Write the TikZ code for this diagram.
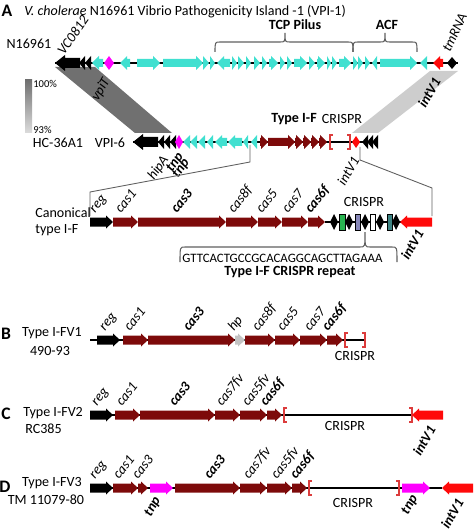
\documentclass[tikz,border=0pt]{standalone}
\usepackage{fontspec}
\setmainfont{Carlito}
\usepackage{tikz}

\definecolor{casred}{RGB}{125,10,10}
\definecolor{vpicyan}{RGB}{64,224,208}
\definecolor{tnpmag}{RGB}{255,0,255}
\definecolor{intred}{RGB}{255,10,10}
\definecolor{hpgray}{RGB}{195,195,195}
\definecolor{spgreen}{RGB}{40,180,80}
\definecolor{sppurple}{RGB}{135,135,185}
\definecolor{spteal}{RGB}{60,130,130}
\definecolor{brgray}{RGB}{95,95,95}
\definecolor{simdark}{RGB}{112,112,112}
\definecolor{simlight}{RGB}{205,205,205}
\definecolor{crred}{RGB}{220,60,60}

\def\gbody{4}\def\ghead{7}\def\gheadlen{7}
\newcommand{\gene}[4]{%
  \pgfmathsetmacro{\gdir}{(#2>#1)?1:-1}%
  \pgfmathsetmacro{\glen}{min(\gheadlen,abs(#2-#1))}%
  \pgfmathsetmacro{\gneck}{#2-\gdir*\glen}%
  \fill[#4] (#1,#3-\gbody) -- (\gneck,#3-\gbody) -- (\gneck,#3-\ghead) -- (#2,#3)
    -- (\gneck,#3+\ghead) -- (\gneck,#3+\gbody) -- (#1,#3+\gbody) -- cycle;}
\newcommand{\dia}[5]{\fill[#5] (#1-#3,#2) -- (#1,#2-#4) -- (#1+#3,#2) -- (#1,#2+#4) -- cycle;}
\newcommand{\crl}[2]{\draw[crbr] (#1+3,#2-7) -- (#1,#2-7) -- (#1,#2+7) -- (#1+3,#2+7);}
\newcommand{\crr}[2]{\draw[crbr] (#1-3,#2-7) -- (#1,#2-7) -- (#1,#2+7) -- (#1-3,#2+7);}

\tikzset{
  txt/.style={font=\fontsize{8}{9}\selectfont, inner sep=0pt},
  btxt/.style={font=\fontsize{8}{9}\selectfont\bfseries, inner sep=0pt},
  lab/.style={font=\fontsize{8}{9}\selectfont\itshape, inner sep=0pt},
  glab/.style={lab, rotate=52, anchor=base west},
  blab/.style={lab, rotate=60, anchor=east},
  panel/.style={font=\fontsize{10}{10}\selectfont\bfseries, inner sep=0pt},
  gline/.style={line width=0.8pt},
  zline/.style={brgray, line width=0.5pt},
  brace/.style={brgray, line width=0.6pt},
  crbr/.style={crred, line width=0.6pt},
  spacer/.style={draw=black, line width=0.3pt}
}

\begin{document}
\begin{tikzpicture}[x=0.02cm,y=-0.02cm]
\useasboundingbox (0,0) rectangle (474,530);

\node[panel] (pA) at (7,11) {A};
\node[txt, anchor=west] (title) at (24,12) {\textit{V. cholerae} N16961 Vibrio Pathogenicity Island -1 (VPI-1)};
\node[btxt] (tcp) at (295,25) {TCP Pilus};
\node[btxt] (acf) at (387,25) {ACF};
\draw[brace] (215,52) .. controls (215,42) .. (220,42) -- (280,42) .. controls (285,42) .. (285,33)
  .. controls (285,42) .. (290,42) -- (348,42) .. controls (353,42) .. (353,52);
\draw[brace] (353,52) .. controls (353,42) .. (358,42) -- (380,42) .. controls (385,42) .. (385,33)
  .. controls (385,42) .. (390,42) -- (412,42) .. controls (417,42) .. (417,52);

\fill[simdark] (55,67) -- (95,67) -- (172,133) -- (135,133) -- cycle;
\fill[simlight] (430,71) -- (458,71) -- (378,133) -- (352,133) -- cycle;
\shade[top color=simdark, bottom color=simlight!70] (25,80) rectangle (32,133);
\node[txt, font=\fontsize{6}{7}\selectfont, anchor=west] (p100) at (33,84) {100\%};
\node[txt, font=\fontsize{6}{7}\selectfont, anchor=west] (p93) at (33,130) {93\%};

% N16961
\node[txt] (n16961) at (29,44) {N16961};
\draw[gline] (55,63) -- (458,63);
\def\gbody{5}\def\ghead{8}\def\gheadlen{10}
\gene{80}{55}{63}{black}
\def\gbody{4}\def\ghead{7}\def\gheadlen{7}
\foreach \a/\b in {85/79,91/85} \gene{\a}{\b}{63}{black};
\foreach \a/\b in {103/92,130/120,230/217,377/372,427/420} \gene{\a}{\b}{63}{vpicyan};
\foreach \a/\b in {137/160,163/203,203/209,210/215,232/237,238/244,246/251,254/260,262/267,269/278,
  280/285,287/292,294/307,309/315,317/325,327/331,332/337,339/351,353/358,358/363,365/370,380/417}
  \gene{\a}{\b}{63}{vpicyan};
\dia{109}{63}{5}{7}{tnpmag}
\gene{443}{433}{63}{intred}
\dia{452}{63}{5}{6}{black}
\node[lab, rotate=55, anchor=base west] (vc0812) at (64,56) {VC0812};
\node[lab, rotate=65, anchor=base west] (tmrna) at (450,53) {tmRNA};
\node[blab] (vpit) at (107,79) {vpiT};
\node[blab] (intA) at (437,79) {\textbf{intV1}};

% HC-36A1
\node[txt] (hc) at (58,143) {HC-36A1};
\node[txt] (vpi6) at (110,143) {VPI-6};
\node[btxt] (typeif) at (294,119) {Type I-F};
\node[txt] (crA) at (342,119) {CRISPR};
\draw[gline] (133,142) -- (378,142);
\def\gbody{5}\def\ghead{8}\def\gheadlen{10}
\gene{158}{133}{142}{black}
\def\gbody{4}\def\ghead{7}\def\gheadlen{7}
\foreach \a/\b in {164/158,170/164,176/170,368/362,373/367,378/372} \gene{\a}{\b}{142}{black};
\dia{179}{142}{4}{7}{tnpmag}
\foreach \a/\b in {190/183,197/190,205/198,213/207,227/215,242/228,248/243,257/251} \gene{\a}{\b}{142}{vpicyan};
\foreach \a/\b in {260/268,268/295,295/303,303/311,311/319,319/327} \gene{\a}{\b}{142}{casred};
\crl{330}{142}\crr{350}{142}
\dia{356}{142}{4}{6}{intred}
\node[blab, rotate=-5] (hipa) at (166,157) {hipA};
\node[blab, rotate=-5] (tnp1) at (181,154) {\textbf{tnp}};
\node[blab, rotate=-5] (tnp2) at (187,160) {\textbf{tnp}};
\node[blab] (intB) at (356,158) {intV1};
\coordinate (zl0) at (250,145);
\coordinate (zl1) at (250,162);
\coordinate (zl2) at (90,192);
\coordinate (zl3) at (90,216);
\coordinate (zr0) at (360,147);
\coordinate (zr1) at (360,160);
\coordinate (zr2) at (432,188);
\coordinate (zr3) at (432,216);
\draw[zline] (zl0) -- (zl1) -- (zl2) -- (zl3);
\draw[zline] (zr0) -- (zr1) -- (zr2) -- (zr3);

% canonical type I-F
\node[txt, anchor=west] (canon) at (35,213) {Canonical};
\node[txt, anchor=west] (typeif2) at (35,230) {type I-F};
\def\gbody{4.5}\def\ghead{6.5}\def\gheadlen{7}
\draw[gline] (325,222) -- (432,222);
\gene{90}{113}{222}{black}
\foreach \a/\b in {113/138,138/226,226/258,258/282,282/308,308/325} \gene{\a}{\b}{222}{casred};
\foreach \x in {334,349,365,380,396} \dia{\x}{222}{4}{8}{black};
\filldraw[spacer, fill=spgreen] (339,214) rectangle (345,230);
\filldraw[spacer, fill=sppurple] (355,214) rectangle (360,230);
\filldraw[spacer, fill=white] (370,214) rectangle (375,230);
\filldraw[spacer, fill=spteal] (387,214) rectangle (392,230);
\gene{432}{400}{222}{intred}
\foreach \x/\t [count=\i] in {95/reg,121/cas1,177/\textbf{cas3},234/cas8f,262/cas5,288/cas7,311/\textbf{cas6f}}
  \node[glab] (can\i) at (\x,214) {\t};
\node[txt] (crC) at (364,202) {CRISPR};
\node[blab] (intC) at (420,231) {\textbf{intV1}};
\draw[brace] (180,262) .. controls (180,247) .. (185,247) -- (360,247) .. controls (365,247) .. (365,232)
  .. controls (365,247) .. (370,247) -- (392,247) .. controls (397,247) .. (397,262);
\node[txt, font=\fontsize{7.3}{9}\selectfont, anchor=west] (seq) at (182,258) {GTTCACTGCCGCACAGGCAGCTTAGAAA};
\node[btxt] (rep) at (290,272) {Type I-F CRISPR repeat};

% B
\node[panel] (pB) at (6,334) {B};
\node[txt] (fv1) at (52,333) {Type I-FV1};
\node[txt] (s490) at (50,351) {490-93};
\draw[gline] (90,340) -- (365,340);
\gene{97}{120}{340}{black}
\foreach \a/\b in {123/148,148/235,245/275,275/300,300/327,327/343} \gene{\a}{\b}{340}{casred};
\gene{235}{245}{340}{hpgray}
\crl{345}{340}\crr{365}{340}
\foreach \x/\t [count=\i] in {105/reg,130/cas1,189/\textbf{cas3},234/hp,258/cas8f,283/cas5,310/cas7,328/\textbf{cas6f}}
  \node[glab] (fvb\i) at (\x,332) {\t};
\node[txt] (crB) at (355,356) {CRISPR};

% C
\node[panel] (pC) at (6,414) {C};
\node[txt, anchor=west] (fv2) at (23,413) {Type I-FV2};
\node[txt, anchor=west] (rc385) at (25,429) {RC385};
\draw[gline] (90,415) -- (412,415);
\gene{90}{113}{415}{black}
\foreach \a/\b in {115/140,140/215,215/240,240/267,267/282} \gene{\a}{\b}{415}{casred};
\crl{284}{415}\crr{412}{415}
\gene{443}{412}{415}{intred}
\foreach \x/\t [count=\i] in {97/reg,122/cas1,175/\textbf{cas3},222/cas7fv,248/cas5fv,266/\textbf{cas6f}}
  \node[glab] (fvc\i) at (\x,407) {\t};
\node[txt] (crD) at (345,426) {CRISPR};
\node[blab] (intD) at (432,427) {\textbf{intV1}};

% D
\node[panel] (pD) at (5,487) {D};
\node[txt] (fv3) at (52,483) {Type I-FV3};
\node[txt] (tm) at (46,500) {TM 11079-80};
\draw[gline] (90,488) -- (442,488);
\gene{90}{113}{488}{black}
\foreach \a/\b in {113/138,138/148,175/240,240/267,267/292,292/307} \gene{\a}{\b}{488}{casred};
\gene{150}{173}{488}{tnpmag}
\gene{402}{430}{488}{tnpmag}
\crl{309}{488}\crr{399}{488}
\gene{473}{442}{488}{intred}
\foreach \x/\t [count=\i] in {95/reg,119/cas1,138/cas3,210/\textbf{cas3},249/cas7fv,277/cas5fv,296/\textbf{cas6f}}
  \node[glab] (fvd\i) at (\x,480) {\t};
\node[txt] (crE) at (353,503) {CRISPR};
\node[blab] (tnpD1) at (158,498) {\textbf{tnp}};
\node[blab] (tnpD2) at (415,496) {\textbf{tnp}};
\node[blab] (intE) at (460,500) {\textbf{intV1}};
\end{tikzpicture}
\end{document}
